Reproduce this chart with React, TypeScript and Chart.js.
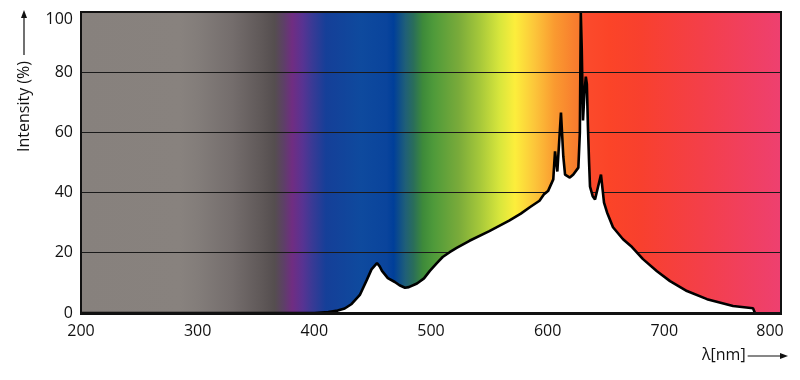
import React, { useEffect, useRef } from "react";
import { Chart, registerables } from "chart.js";

Chart.register(...registerables);

// ---- data ----
const wavelengthNm = [
  200, 400, 412, 420, 426, 432, 439, 445, 449, 453.7, 456, 458, 463, 469, 473, 477.7, 481, 488, 494, 499,
  505, 510, 516, 522, 533, 550, 567, 577, 585, 593, 597, 600.3, 604.8, 606.3, 608.3, 611.4, 613.4, 614.9,
  619, 622, 626.3, 627.6, 628.4, 629.2, 630.3, 631.5, 632.7, 633.6, 634.5, 635.5, 636.3, 638.6, 640.6,
  645.7, 648.3, 650.9, 656, 664.6, 672.3, 681.7, 693.7, 704.9, 719.4, 736.6, 758.9, 776, 777.7,
];
const intensityPct = [
  0, 0, 0.3, 0.8, 1.5, 3, 6, 11, 14.5, 16.6, 15.5, 14, 11.6, 10.3, 9.2, 8.4, 8.6, 9.8, 11.5, 14,
  16.6, 18.6, 20.2, 21.6, 24, 27.2, 30.7, 33, 35.2, 37.3, 39.5, 40.5, 44.4, 53.7, 47, 66.6, 52, 46,
  45, 46, 48.3, 60, 100, 88, 64, 73, 78.5, 76, 62, 50, 42, 38.8, 37.7,
  46, 36.7, 33.4, 28.5, 24.5, 21.9, 17.9, 13.9, 10.6, 7.3, 4.6, 2.3, 1.6, 0,
];
const xTickValues = [200, 300, 400, 500, 600, 700, 800];
const yTickValues = [0, 20, 40, 60, 80, 100];
const yTitle = "Intensity (%)";
const xTitle = "λ[nm]";

// spectrum background (style)
const spectrumNm = [
  200, 285, 300, 330, 355, 366, 374, 381, 390, 398, 410, 440, 462, 468, 478, 485, 493, 502, 524, 542,
  559, 572, 589, 606, 622, 628, 631, 653, 680, 730, 800,
];
const spectrumColors = [
  "#87817d", "#88827e", "#837d7a", "#746d6c", "#5f5858", "#554e4f", "#5e3f68", "#702d82", "#583392",
  "#3a3a95", "#153f98", "#0e4a9e", "#0a449c", "#003f99", "#1f5f78", "#2a6e5a", "#3d8a3a", "#4e9a3a",
  "#7aab3a", "#a6c83a", "#d8e63c", "#fcee3c", "#fcc53a", "#fa9a30", "#f8802e", "#f7782e", "#fb4b2c",
  "#fb4428", "#f8402e", "#f43f48", "#ee4070",
];

const FONT = "'Open Sans', 'DejaVu Sans', sans-serif";

export default function App() {
  const ref = useRef<HTMLCanvasElement>(null);

  useEffect(() => {
    document.body.style.margin = "0";
    const canvas = ref.current;
    if (!canvas) return;

    const spectrumPlugin = {
      id: "spectrum",
      beforeDraw(chart: any) {
        const { ctx, chartArea: a, scales } = chart;
        const xs = scales.x;
        const w = a.right - a.left;
        const g = ctx.createLinearGradient(a.left, 0, a.right, 0);
        spectrumNm.forEach((nm, i) => {
          const t = (xs.getPixelForValue(nm) - a.left) / w;
          g.addColorStop(Math.min(1, Math.max(0, t)), spectrumColors[i]);
        });
        ctx.save();
        ctx.fillStyle = g;
        ctx.fillRect(a.left, a.top, w, a.bottom - a.top);
        ctx.restore();
      },
      afterDraw(chart: any) {
        const { ctx, chartArea: a, scales } = chart;
        const xs = scales.x;
        const ys = scales.y;
        ctx.save();
        // frame
        ctx.strokeStyle = "#111";
        ctx.lineWidth = 2;
        ctx.beginPath();
        ctx.moveTo(a.left, a.bottom);
        ctx.lineTo(a.left, a.top);
        ctx.lineTo(a.right, a.top);
        ctx.lineTo(a.right, a.bottom);
        ctx.stroke();
        ctx.lineWidth = 3;
        ctx.beginPath();
        ctx.moveTo(a.left - 1, a.bottom + 0.5);
        ctx.lineTo(a.right + 1, a.bottom + 0.5);
        ctx.stroke();

        ctx.fillStyle = "#111";
        ctx.font = `16px ${FONT}`;
        ctx.textBaseline = "middle";

        // y tick labels
        ctx.textAlign = "right";
        yTickValues.forEach((v) => {
          const py = Math.max(ys.getPixelForValue(v), a.top + 7);
          ctx.fillText(String(v), a.left - 8, py);
        });

        // x tick labels
        ctx.textAlign = "center";
        xTickValues.forEach((v, i) => {
          let px = xs.getPixelForValue(v);
          if (i === xTickValues.length - 1) px -= 11;
          ctx.fillText(String(v), px, a.bottom + 18);
        });

        // x title with arrow
        ctx.font = `16px ${FONT}`;
        ctx.textAlign = "left";
        const tx = 702;
        const ty = 355;
        ctx.fillText(xTitle, tx, ty);
        const tw = ctx.measureText(xTitle).width;
        const ax0 = tx + tw + 2;
        const ax1 = 788;
        ctx.lineWidth = 1.2;
        ctx.beginPath();
        ctx.moveTo(ax0, ty + 1);
        ctx.lineTo(ax1 - 6, ty + 1);
        ctx.stroke();
        ctx.beginPath();
        ctx.moveTo(ax1, ty + 1);
        ctx.lineTo(ax1 - 8, ty - 2);
        ctx.lineTo(ax1 - 8, ty + 4);
        ctx.closePath();
        ctx.fill();

        // y title with arrow
        ctx.translate(24, 152);
        ctx.rotate(-Math.PI / 2);
        ctx.font = `16px ${FONT}`;
        ctx.textAlign = "left";
        ctx.fillText(yTitle, 0, 0);
        const yw = ctx.measureText(yTitle).width;
        const by0 = yw + 6;
        const by1 = 142;
        ctx.beginPath();
        ctx.moveTo(by0, 0);
        ctx.lineTo(by1 - 6, 0);
        ctx.stroke();
        ctx.beginPath();
        ctx.moveTo(by1, 0);
        ctx.lineTo(by1 - 8, -3);
        ctx.lineTo(by1 - 8, 3);
        ctx.closePath();
        ctx.fill();
        ctx.restore();
      },
    };

    const chart = new Chart(canvas, {
      type: "line",
      data: {
        datasets: [
          {
            data: wavelengthNm.map((x, i) => ({ x, y: intensityPct[i] })),
            borderColor: "#000",
            borderWidth: 2.6,
            borderJoinStyle: "bevel",
            backgroundColor: "#ffffff",
            fill: "origin",
            pointRadius: 0,
            tension: 0,
          },
        ],
      },
      options: {
        responsive: false,
        animation: false,
        events: [],
        layout: { padding: { left: 0, right: 19, top: 12, bottom: 0 } },
        plugins: { legend: { display: false }, tooltip: { enabled: false } },
        scales: {
          x: {
            type: "linear",
            min: 200,
            max: 800,
            grid: { display: false, drawTicks: false },
            border: { display: false },
            ticks: { display: false, stepSize: 100 },
            afterFit: (s: any) => {
              s.height = 67;
            },
          },
          y: {
            min: 0,
            max: 100,
            grid: { color: "#1a1a1a", lineWidth: 1, drawTicks: false },
            border: { display: false },
            ticks: { display: false, stepSize: 20 },
            afterFit: (s: any) => {
              s.width = 81;
            },
          },
        },
      },
      plugins: [spectrumPlugin],
    } as any);

    return () => chart.destroy();
  }, []);

  return (
    <div style={{ width: 800, height: 380 }}>
      <canvas ref={ref} width={800} height={380} style={{ display: "block" }} />
    </div>
  );
}
